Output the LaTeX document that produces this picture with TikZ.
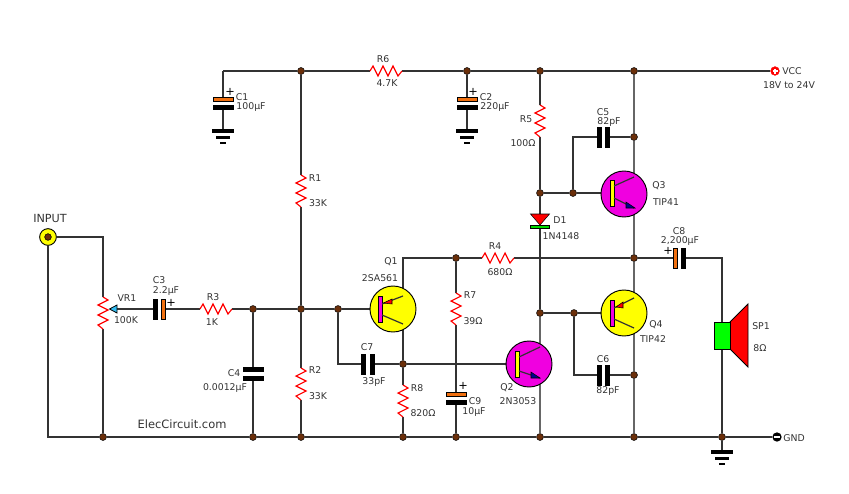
\documentclass[tikz,border=0pt]{standalone}
\usepackage{fontspec}
\setmainfont{DejaVu Sans}
\usetikzlibrary{backgrounds}
\definecolor{wirec}{HTML}{333333}
\definecolor{wireg}{HTML}{666666}
\definecolor{txt}{HTML}{333333}
\definecolor{dotc}{HTML}{6B2F0A}
\definecolor{orangec}{HTML}{F07010}
\definecolor{magc}{HTML}{F000E0}
\definecolor{yelc}{HTML}{FFFF00}
\definecolor{navyc}{HTML}{000090}
\tikzset{
  wire/.style={draw=wirec,line width=.95pt},
  wireb/.style={draw=wireg,line width=1.05pt},
  dot/.style={circle,draw=black,fill=dotc,line width=.4pt,inner sep=0pt,minimum size=5.2pt},
  pt/.style={coordinate},
  lab/.style={inner sep=0pt,text=txt,font=\fontsize{7}{8}\selectfont},
  labplus/.style={inner sep=0pt,text=black,font=\fontsize{8.5}{8}\selectfont},
  zig/.style={draw=red,line width=.85pt,line join=miter},
  vplate/.style={rectangle,draw=black,fill=black,inner sep=0pt,minimum width=3pt,minimum height=15pt},
  hplate/.style={rectangle,draw=black,fill=black,inner sep=0pt,minimum width=15pt,minimum height=3pt},
  vplateo/.style={vplate,fill=orangec},
  hplateo/.style={hplate,fill=orangec},
  gbar/.style={rectangle,fill=black,inner sep=0pt},
  tr/.style={circle,draw=black,line width=.7pt,inner sep=0pt,minimum size=34.5pt},
  bar/.style={rectangle,draw=black,line width=.5pt,inner sep=0pt,minimum width=3pt,minimum height=19.5pt},
  lead/.style={draw=wirec,line width=.9pt},
  tip/.style={draw=black,line width=.4pt}
}
% horizontal resistor: name, x, y (left end)
\newcommand{\ResH}[3]{%
  \coordinate (#1a) at (#2,#3);
  \coordinate (#1b) at ({#2+32},#3);
  \draw[zig] (#1a) -- ++(3,-5) -- ++(5,10) -- ++(5,-10) -- ++(5,10) -- ++(5,-10) -- ++(5,10) -- (#1b);
}
% vertical resistor: name, x, y (top end)
\newcommand{\ResV}[3]{%
  \coordinate (#1a) at (#2,#3);
  \coordinate (#1b) at (#2,{#3+32});
  \draw[zig] (#1a) -- ++(5,3) -- ++(-10,5) -- ++(10,5) -- ++(-10,5) -- ++(10,5) -- ++(-10,5) -- (#1b);
}
\newcommand{\Gnd}[3]{%
  \node[gbar,minimum width=17pt,minimum height=3pt] (#1) at (#2,#3) {};
  \node[gbar,minimum width=11pt,minimum height=2pt] (#1m) at (#2,{#3+6.5}) {};
  \node[gbar,minimum width=5pt,minimum height=2pt] (#1l) at (#2,{#3+12}) {};
}
\begin{document}
\begin{tikzpicture}[x=.75pt,y=-.75pt]
\useasboundingbox (0,0) rectangle (849,493);
% junctions
\foreach \n/\x/\y in {jA/301/71,jB/467/71,jC/540/71,jD/634/71,
  jE/301/309,jF/253/309,jG/338/309,jH/403/364,jI/456/258,
  jJ/540/193,jK/573/193,jL/634/137,jM/634/258,jN/540/313,jO/574/313,jP/634/375,
  jQ/103/437,jR/253/437,jS/301/437,jT/403/437,jU/456/437,jV/540/437,jW/634/437,jX/722/437}
  \node[dot] (\n) at (\x,\y) {};
% corners
\foreach \n/\x/\y in {kA/223/71,kB/103/237,kC/48/437,kD/403/258,kE/338/364,kF/573/137,kG/574/375,kH/722/258,
  qAe/403/296,qAc/403/324,qBc/540/347,qBe/540/378,qCc/634/177,qCe/634/208,qDe/634/298,qDc/634/328,dA/540/214,dB/540/226}
  \node[pt] (\n) at (\x,\y) {};
% resistors
\ResH{Rsix}{370}{71}
\ResH{Rthree}{200}{309}
\ResH{Rfour}{482}{258}
\ResV{Rone}{301}{175}
\ResV{Rtwo}{301}{368}
\ResV{Rvr}{103}{297}
\ResV{Rfive}{540}{105}
\ResV{Rseven}{456}{293}
\ResV{Reight}{403}{385}
% capacitors
\node[hplateo] (Cone) at (223,99) {};
\node[hplate] (Cones) at (223,107) {};
\node[hplateo] (Ctwo) at (467,99) {};
\node[hplate] (Ctwos) at (467,107) {};
\node[vplate] (Cthrees) at (155,309) {};
\node[vplateo] (Cthree) at (163,309) {};
\node[hplate] (Cfour) at (253,369) {};
\node[hplate] (Cfours) at (253,378) {};
\node[vplate] (Cfive) at (599,137) {};
\node[vplate] (Cfives) at (607,137) {};
\node[vplate] (Csix) at (599,375) {};
\node[vplate] (Csixs) at (607,375) {};
\node[vplate] (Cseven) at (363,364) {};
\node[vplate] (Csevens) at (372,364) {};
\node[vplateo] (Ceight) at (675,258) {};
\node[vplate] (Ceights) at (683,258) {};
\node[hplateo] (Cnine) at (456,394) {};
\node[hplate] (Cnines) at (456,402) {};
% grounds
\Gnd{Gone}{223}{131}
\Gnd{Gtwo}{467}{131}
\Gnd{Gthree}{722}{452}
% jack, terminals
\node[circle,draw=black,fill=yelc,line width=.7pt,inner sep=0pt,minimum size=12.5pt] (J) at (48,237) {};
\node[dot,minimum size=5pt] (Jc) at (J) {};
\node[circle,fill=red,draw=red,inner sep=0pt,minimum size=6.5pt] (VCC) at (775,71) {};
\draw[white,line width=.8pt] (772.5,71) -- (777.5,71) (775,68.5) -- (775,73.5);
\node[circle,fill=black,inner sep=0pt,minimum size=7pt] (GND) at (777,437) {};
\draw[white,line width=.9pt] (774,437) -- (780,437);
% transistors
\node[tr,fill=yelc] (Qone) at (393,309) {};
\node[bar,fill=magc] (Qoneb) at (380,309) {};
\node[tr,fill=magc] (Qtwo) at (529,364) {};
\node[bar,fill=yelc] (Qtwob) at (517,364) {};
\node[tr,fill=magc] (Qthree) at (624,194) {};
\node[bar,fill=yelc] (Qthreeb) at (612,193) {};
\node[tr,fill=yelc] (Qfour) at (624,313) {};
\node[bar,fill=magc] (Qfourb) at (612,313) {};
% leads inside transistors
\draw[lead] (382,304) -- (qAe);
\draw[lead] (382,315) -- (qAc);
\draw[lead] (519,357) -- (qBc);
\draw[lead] (519,371) -- (qBe);
\draw[lead] (614,186) -- (qCc);
\draw[lead] (614,198) -- (qCe);
\draw[lead] (614,308) -- (qDe);
\draw[lead] (614,319) -- (qDc);
\draw[tip,fill=red] (383.5,303) -- (392,299) -- (392,304) -- cycle;
\draw[tip,fill=red] (616,307) -- (623,302) -- (623,308) -- cycle;
\draw[tip,fill=navyc] (531,372) -- (531,378) -- (540,378) -- cycle;
\draw[tip,fill=navyc] (626,202) -- (626,208) -- (635,208) -- cycle;
% diode
\draw[draw=black,line width=.4pt,fill=red] (530.5,214) -- (549.5,214) -- (540,225) -- cycle;
\node[rectangle,draw=black,line width=.4pt,fill=green!85!black,inner sep=0pt,minimum width=14.5pt,minimum height=2.4pt] (Dbar) at (540,226.5) {};
% wiper
\node[pt] (wt) at (117,309) {};
\draw[tip,line width=.6pt,fill=cyan!80!white] (109.5,309) -- (117,305) -- (117,313) -- cycle;
% speaker
\draw[draw=black,line width=.7pt,fill=red] (730,322) -- (748,304) -- (748,367) -- (730,349) -- cycle;
\node[rectangle,draw=black,line width=.7pt,fill=green,inner sep=0pt,minimum width=12pt,minimum height=20.2pt] (Spk) at (722,335.5) {};
% wires
\begin{pgfonlayer}{background}
\path[wire] (kA) -- (jA) -- (Rsixa) (Rsixb) -- (jB) -- (jC);
\path[wire] (jC) -- (jD) -- (VCC);
\path[wire] (kA) -- (Cone.north) (Cones.south) -- (Gone.north);
\path[wire] (jB) -- (Ctwo.north) (Ctwos.south) -- (Gtwo.north);
\path[wire] (jA) -- (Ronea) (Roneb) -- (jE) -- (Rtwoa) (Rtwob) -- (jS);
\path[wire] (J) -- (kB) -- (Rvra) (Rvrb) -- (jQ);
\path[wire] (J) -- (kC) -- (jQ) -- (jR) -- (jS) -- (jT) -- (jU) -- (jV) -- (jW) -- (jX) -- (GND);
\path[wire] (wt) -- (Cthrees.west) (Cthree.east) -- (Rthreea) (Rthreeb) -- (jF) -- (jE) -- (jG) -- (Qoneb.west);
\path[wire] (jF) -- (Cfour.north) (Cfours.south) -- (jR);
\path[wire] (qAe) -- (kD) -- (jI) -- (Rfoura) (Rfourb) -- (jM);
\path[wire] (qAc) -- (jH) -- (Reighta) (Reightb) -- (jT);
\path[wire] (jG) -- (kE) -- (Cseven.west) (Csevens.east) -- (jH) -- (Qtwob.west);
\path[wire] (jI) -- (Rsevena) (Rsevenb) -- (Cnine.north) (Cnines.south) -- (jU);
\path[wire] (jC) -- (Rfivea) (Rfiveb) -- (jJ) -- (dA) (dB) -- (jN);
\path[wireb] (jN) -- (qBc) (qBe) -- (jV);
\path[wire] (jJ) -- (jK) -- (Qthreeb.west) (jK) -- (kF) -- (Cfive.west) (Cfives.east) -- (jL);
\path[wire] (jN) -- (jO) -- (Qfourb.west) (jO) -- (kG) -- (Csix.west) (Csixs.east) -- (jP);
\path[wireb] (jD) -- (jL) -- (qCc) (qCe) -- (jM) -- (qDe) (qDc) -- (jP) -- (jW);
\path[wire] (jM) -- (Ceight.west) (Ceights.east) -- (kH) -- (Spk.north) (Spk.south) -- (jX);
\path[wire] (jX) -- (Gthree.north);
\end{pgfonlayer}
% labels
\foreach \n/\x/\y/\t in {
 lB/127/298/VR1,lC/126/320/100K,lD/159/280/C3,lE/166/291/2.2µF,
 lF/213/297/R3,lG/212/322/1K,lH/234/373/C4,lI/225/388/0.0012µF,
 lJ/315/178/R1,lK/318/203/33K,lL/315/370/R2,lM/318/396/33K,
 lN/242/97/C1,lO/251/107/100µF,lP/383/59/R6,lQ/387/83/4.7K,lR/486/97/C2,lS/495/107/220µF,
 lT/526/119/R5,lU/523/143/100Ω,lV/603/112/C5,lW/609/122/82pF,lX/659/186/Q3,lY/666/202/TIP41,
 lZ/560/220/D1,mA/561/236/1N4148,mB/679/231/C8,mC/680/241/{2,200µF},mD/656/325/Q4,mE/653/339/TIP42,
 mF/603/359/C6,mG/608/391/82pF,mH/761/326/SP1,mI/760/348/8Ω,mJ/794/438/GND,mK/792/71/VCC,mL/789/85/18V to 24V,
 mM/391/262/Q1,mN/380/278/2SA561,mO/495/246/R4,mP/500/272/680Ω,mQ/470/295/R7,mR/473/321/39Ω,
 mS/367/347/C7,mT/374/382/33pF,mU/417/388/R8,mV/423/413/820Ω,mW/475/401/C9,mX/474/412/10µF,
 mY/507/388/Q2,mZ/518/401/2N3053}
  \node[lab] (\n) at (\x,\y) {\t};
\foreach \n/\x/\y in {pA/171/303,pB/230/92,pC/473/92,pD/668/251,pE/463/386}
  \node[labplus] (\n) at (\x,\y) {+};
\node[lab,font=\fontsize{8.6}{9}\selectfont] (site) at (182,424) {ElecCircuit.com};
\node[lab,font=\fontsize{8.4}{9}\selectfont] (lA) at (50,218) {INPUT};
\end{tikzpicture}
\end{document}
